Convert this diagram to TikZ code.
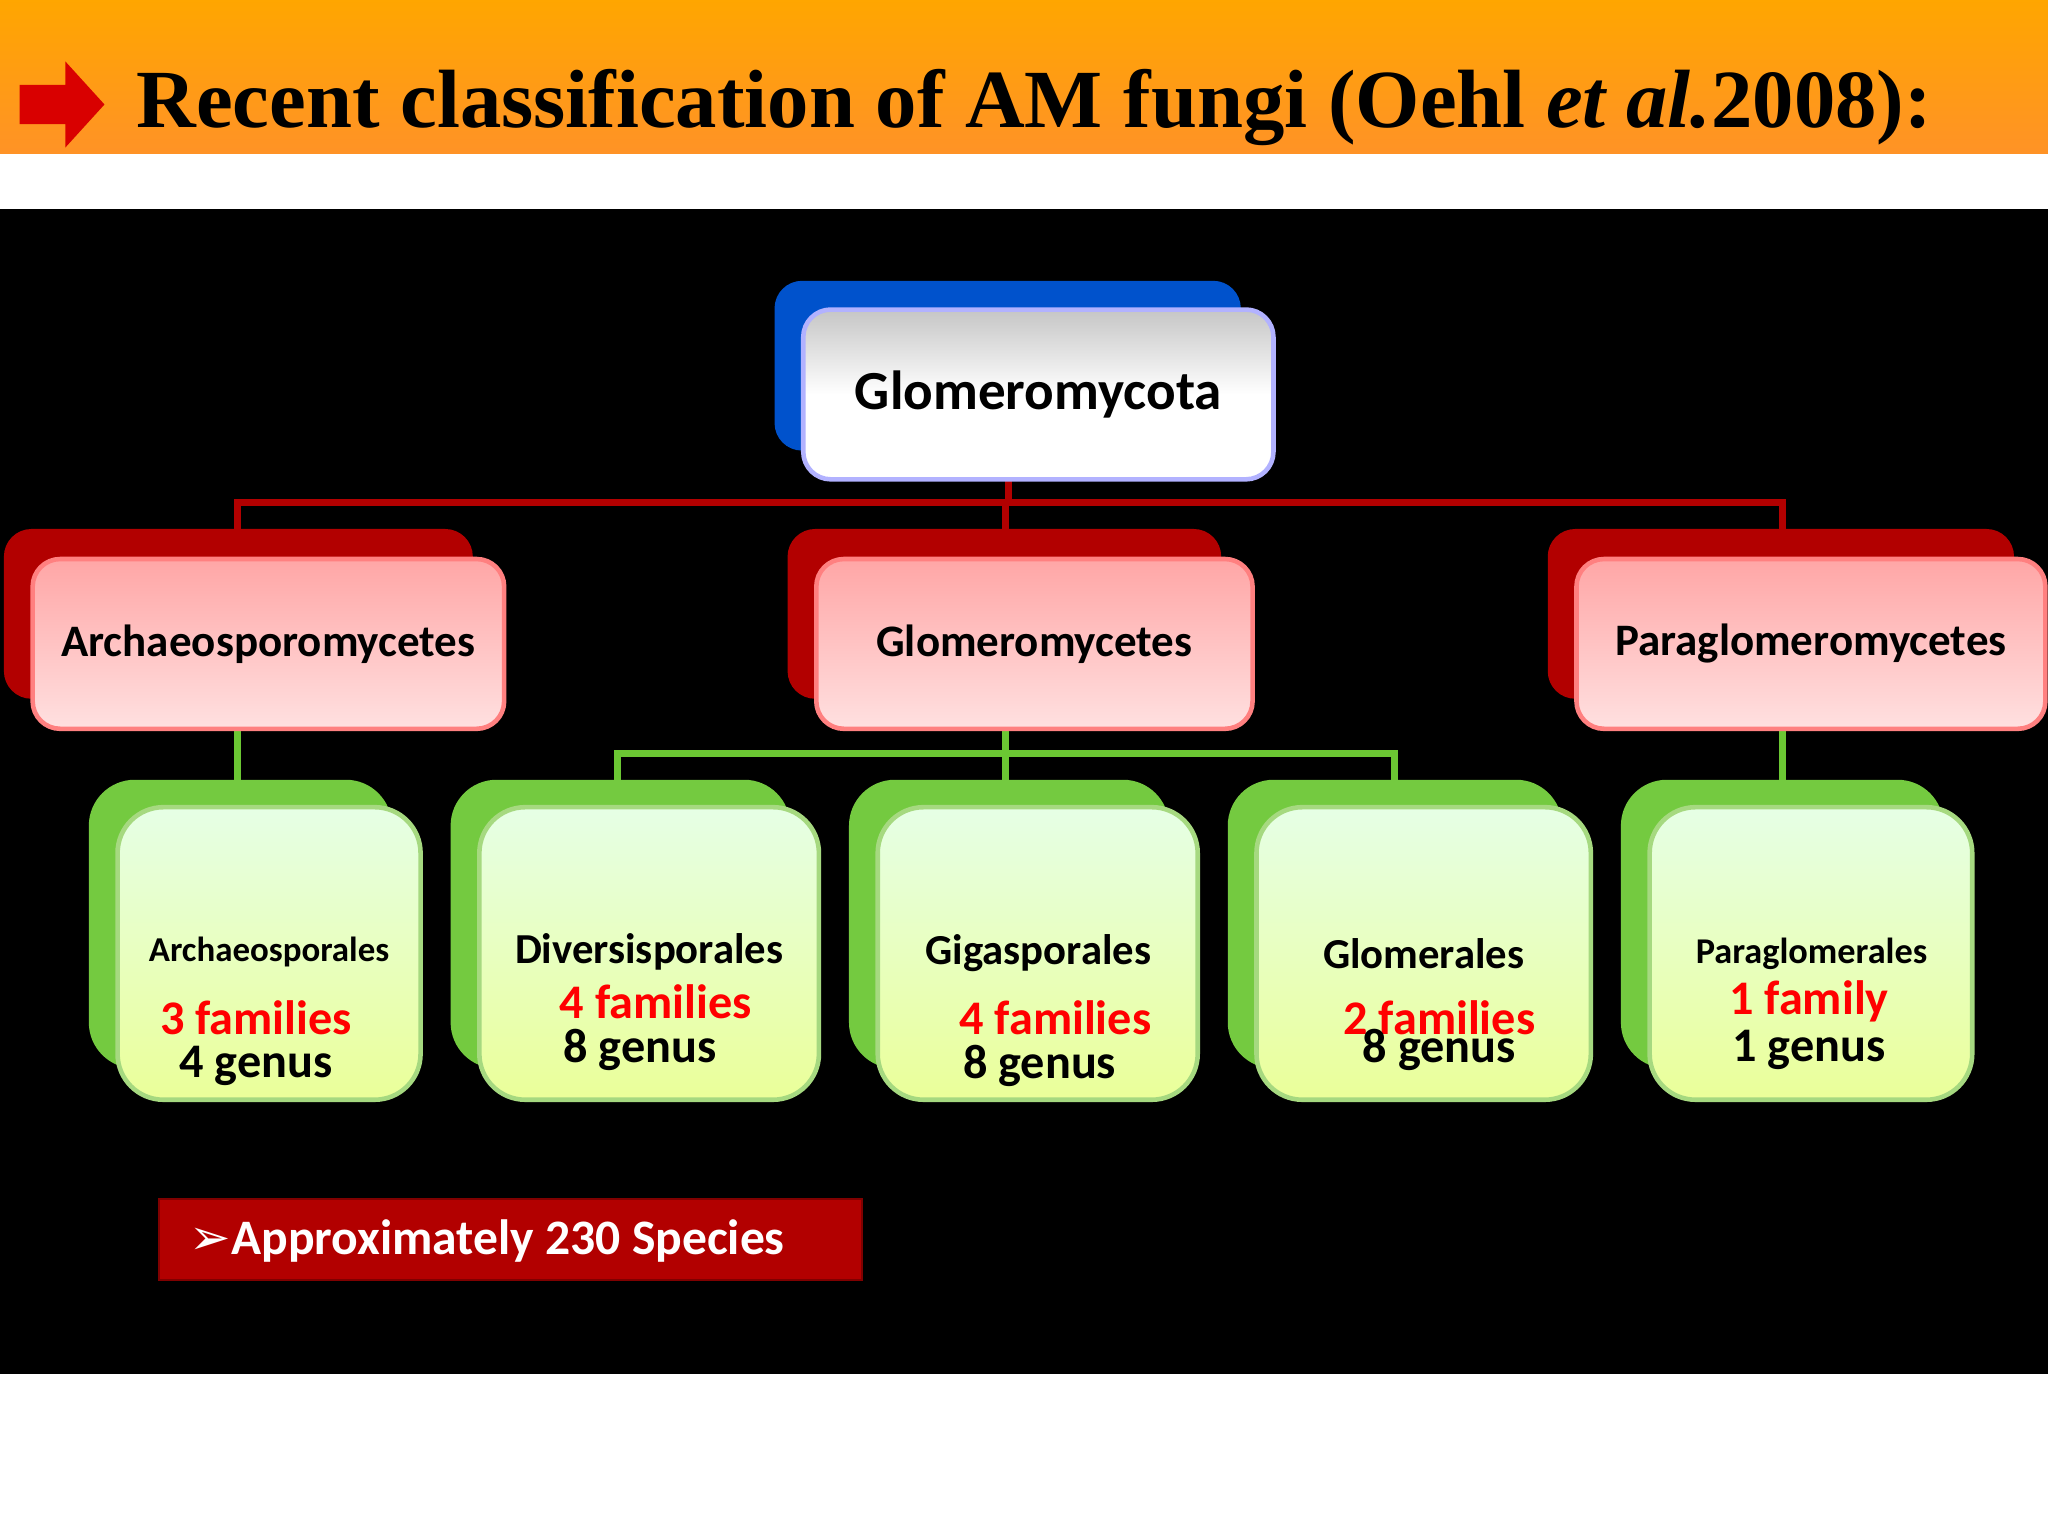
\documentclass[tikz,border=0pt]{standalone}
\usepackage{fontspec}
\setmainfont{Carlito}
\newfontfamily\titlefont{Liberation Serif}
\newfontfamily\symfont{DejaVu Sans}
\begin{document}
\begin{tikzpicture}[x=0.01cm,y=-0.01cm,
 back/.style={rounded corners=6pt},
 blueb/.style={back,fill=blue!60!cyan!80!black},
 grayf/.style={rounded corners=6pt,draw=blue!30,line width=1pt,top color=gray!45,bottom color=white,middle color=white},
 redb/.style={back,fill=red!70!black},
 redf/.style={rounded corners=6pt,draw=red!50,line width=1pt,top color=red!35,bottom color=red!12},
 greenb/.style={rounded corners=10pt,fill=green!45!olive!75},
 greenf/.style={rounded corners=10pt,draw=green!40!olive!50,line width=1pt,top color=white!90!green,bottom color=green!20!yellow!40},
 lbl/.style={font=\bfseries\fontsize{9.8pt}{11pt}\selectfont,align=center},
 rl/.style={red!70!black,line width=1.5pt},
 gl/.style={green!45!olive!80,line width=1.5pt}]
\useasboundingbox (0,0) rectangle (1568,1176);
\fill[top color=orange!70!yellow,bottom color=orange!85] (0,0) rectangle (1568,118);
\fill[white] (0,118) rectangle (1568,160);
\fill[black] (0,160) rectangle (1568,1052);
\fill[red!85!black] (15,65) -- (50,65) -- (50,47) -- (80,80) -- (50,113) -- (50,95) -- (15,95) -- cycle;
\node[anchor=west,font=\titlefont\bfseries\fontsize{18pt}{20pt}\selectfont] (title) at (92,82) {Recent classification of AM fungi (Oehl \textit{et al.}2008):};
% connectors
\coordinate (c0) at (772,385);
\draw[rl] (772,367) -- (c0);
\draw[rl] (182,405) -- (182,385) -- (1365,385) -- (1365,405);
\draw[rl] (770,385) -- (770,405);
\draw[gl] (182,558) -- (182,597);
\draw[gl] (770,558) -- (770,577);
\draw[gl] (473,597) -- (473,577) -- (1068,577) -- (1068,597);
\draw[gl] (770,577) -- (770,597);
\draw[gl] (1365,558) -- (1365,597);
% top
\fill[blueb] (593,215) rectangle (950,345);
\draw[grayf] (615,237) rectangle (975,367);
\node[lbl,font=\bfseries\fontsize{12pt}{13pt}\selectfont] (glo) at (795,302) {Glomeromycota};
% red
\foreach \a/\b/\t/\n in {3/362/Archaeosporomycetes/ar, 603/935/Glomeromycetes/gm, 1185/1542/Paraglomeromycetes/pg}{
 \fill[redb] (\a,405) rectangle (\b,535);
 \draw[redf] (\a+22,428) rectangle (\b+24,558);
 \node[lbl] (\n) at ({(\a+\b)/2+23},493) {\t};
}
% green
\foreach \a/\b/\n in {90/322/g1, 367/627/g2, 672/917/g3, 962/1218/g4, 1263/1510/g5}{
 \fill[greenb] (\a-22,597) rectangle (\b-22,818);
 \draw[greenf] (\a,618) rectangle (\b,842);
}
\node[lbl,font=\bfseries\fontsize{7.6pt}{9pt}\selectfont] (n1) at (206,729) {Archaeosporales};
\node[lbl,font=\bfseries\fontsize{10.5pt}{11pt}\selectfont,text=red] (f1) at (196,779) {3 families};
\node[lbl,font=\bfseries\fontsize{10.5pt}{11pt}\selectfont] (s1) at (196,816) {4 genus};
\node[lbl,font=\bfseries\fontsize{9.3pt}{10pt}\selectfont] (n2) at (497,729) {Diversisporales};
\node[lbl,font=\bfseries\fontsize{10.5pt}{11pt}\selectfont,text=red] (f2) at (502,767) {4 families};
\node[lbl,font=\bfseries\fontsize{10.5pt}{11pt}\selectfont] (s2) at (490,804) {8 genus};
\node[lbl,font=\bfseries\fontsize{9.3pt}{10pt}\selectfont] (n3) at (795,730) {Gigasporales};
\node[lbl,font=\bfseries\fontsize{10.5pt}{11pt}\selectfont,text=red] (f3) at (808,779) {4 families};
\node[lbl,font=\bfseries\fontsize{10.5pt}{11pt}\selectfont] (s3) at (796,816) {8 genus};
\node[lbl,font=\bfseries\fontsize{9.3pt}{10pt}\selectfont] (n4) at (1090,730) {Glomerales};
\node[lbl,font=\bfseries\fontsize{10.5pt}{11pt}\selectfont,text=red] (f4) at (1102,779) {2 families};
\node[lbl,font=\bfseries\fontsize{10.5pt}{11pt}\selectfont] (s4) at (1102,804) {8 genus};
\node[lbl,font=\bfseries\fontsize{7.9pt}{9pt}\selectfont] (n5) at (1387,730) {Paraglomerales};
\node[lbl,font=\bfseries\fontsize{10.5pt}{11pt}\selectfont,text=red] (f5) at (1385,767) {1 family};
\node[lbl,font=\bfseries\fontsize{10.5pt}{11pt}\selectfont] (s5) at (1385,804) {1 genus};
% banner
\fill[red!70!black,draw=red!50!black] (122,918) rectangle (660,980);
\node[anchor=west,text=white,font=\bfseries\fontsize{10.8pt}{11pt}\selectfont] (ap) at (133,950) {{\symfont ➢}Approximately 230 Species};
\end{tikzpicture}
\end{document}
